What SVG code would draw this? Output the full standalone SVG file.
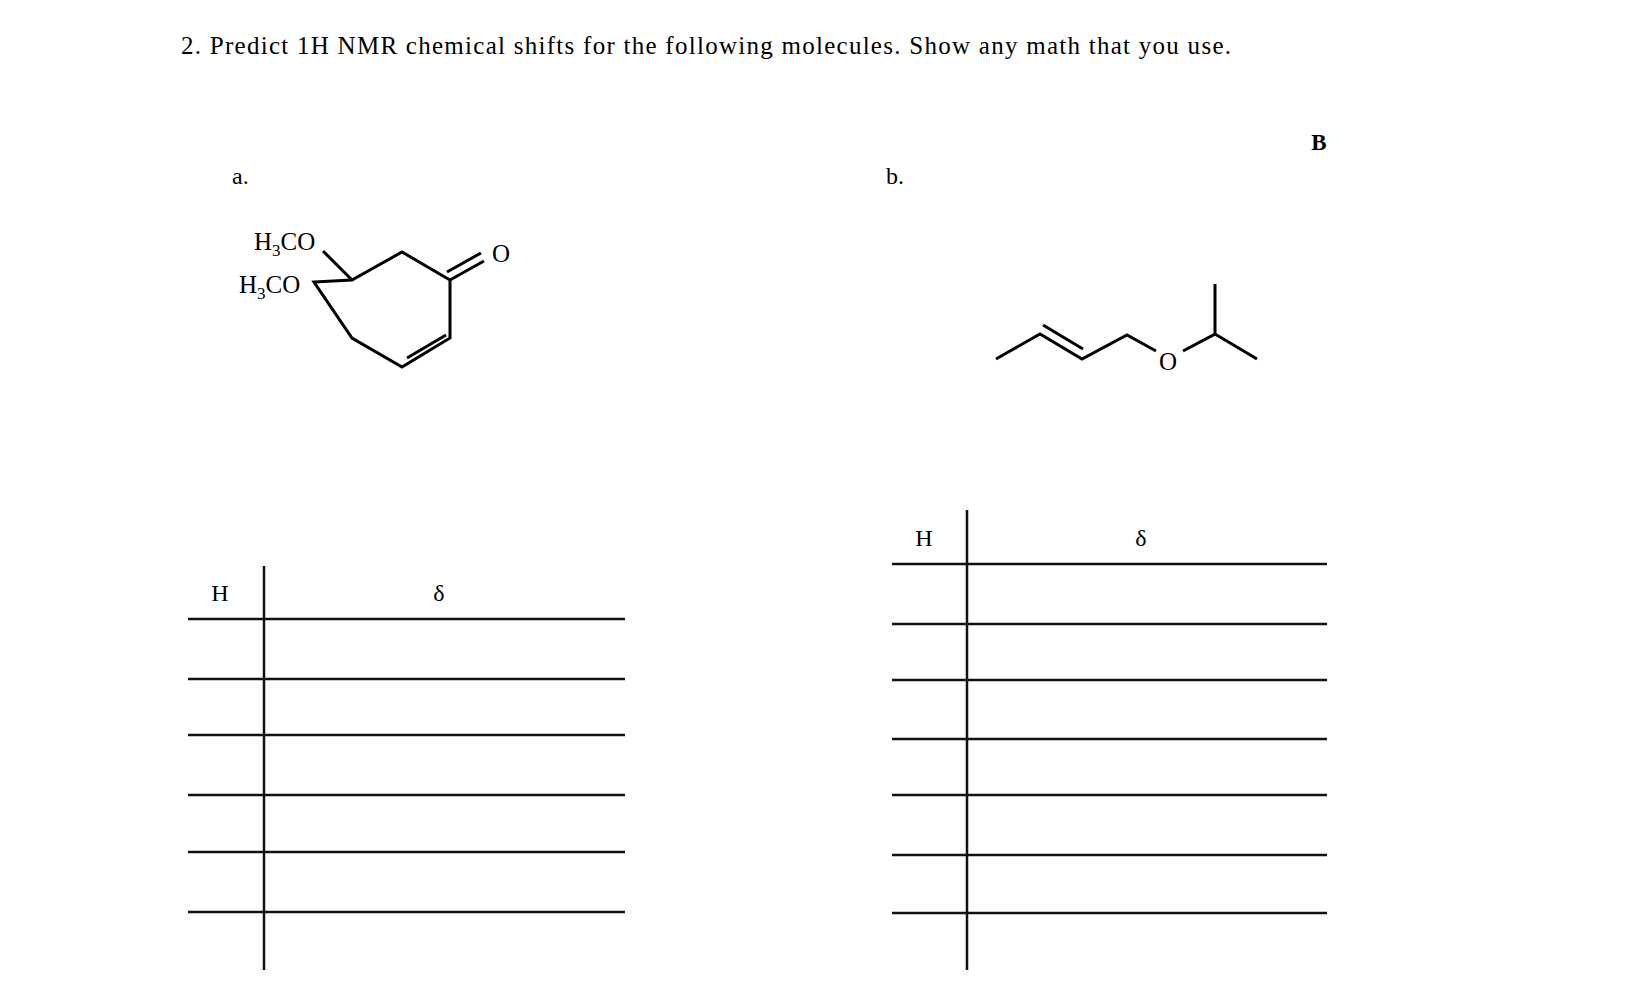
<svg xmlns="http://www.w3.org/2000/svg" width="1640" height="999" viewBox="0 0 1640 999">
<style>
text{font-family:"Liberation Serif",serif;fill:#000}
.b{stroke:#000;stroke-width:3;fill:none;stroke-linecap:butt}
.t{stroke:#111;stroke-width:2.5;fill:none}
</style>
<rect width="1640" height="999" fill="#fff"/>
<text x="181" y="54" font-size="25" textLength="1050">2. Predict 1H NMR chemical shifts for the following molecules. Show any math that you use.</text>
<text x="1319" y="150" font-size="23" font-weight="bold" text-anchor="middle">B</text>
<text x="232" y="184" font-size="24">a.</text>
<text x="886" y="184" font-size="24">b.</text>
<g id="molA">
<text x="254" y="250" font-size="25">H<tspan font-size="17" dy="6">3</tspan><tspan dy="-6">CO</tspan></text>
<text x="239" y="293" font-size="25">H<tspan font-size="17" dy="6">3</tspan><tspan dy="-6">CO</tspan></text>
<text x="501" y="262" font-size="25" text-anchor="middle">O</text>
<path class="b" d="M323 251L352 280M314 282L352 280L402 252L450 280L450 338L402 367L352 338Z"/>
<path class="b" d="M450 280L484 261M447 272L481 253M407 358L446 335"/>
</g>
<g id="molB">
<text x="1168" y="370" font-size="25" text-anchor="middle">O</text>
<path class="b" d="M996 359L1040 334L1082 359L1127 335L1156 351M1183 351L1215 334L1215 284M1215 334L1257 359M1043 325L1083 349"/>
</g>
<g id="tableA">
<text x="220" y="601" font-size="24" text-anchor="middle">H</text>
<text x="439" y="601" font-size="24" text-anchor="middle">δ</text>
<path class="t" d="M264 566V970M188 619H625M188 679H625M188 735H625M188 795H625M188 852H625M188 912H625"/>
</g>
<g id="tableB">
<text x="924" y="546" font-size="24" text-anchor="middle">H</text>
<text x="1141" y="546" font-size="24" text-anchor="middle">δ</text>
<path class="t" d="M967 510V970M892 564H1327M892 624H1327M892 680H1327M892 739H1327M892 795H1327M892 855H1327M892 913H1327"/>
</g>
</svg>
